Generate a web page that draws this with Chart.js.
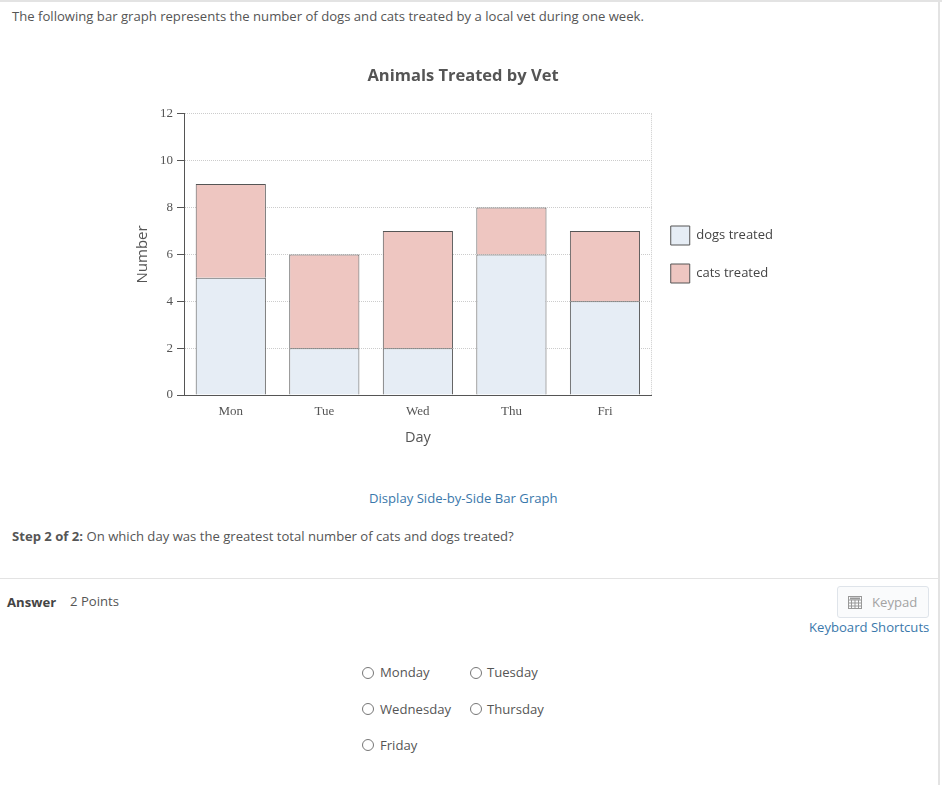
<!DOCTYPE html>
<html>
<head>
<meta charset="utf-8">
<title>Animals Treated by Vet</title>
<script src="https://cdn.jsdelivr.net/npm/chart.js@4"></script>
<style>
    html, body { margin: 0; padding: 0; background: #fff; }
    body { width: 942px; height: 785px; position: relative; overflow: hidden; font: 13.12px "Open Sans", sans-serif; color: #555; }
    .txt { position: absolute; white-space: nowrap; line-height: 18px; }
    .enlace { color: #3a78ab; }
    .linea { position: absolute; background: #e3e3e3; }
    .radio { position: absolute; width: 10px; height: 10px; border: 1px solid #777; border-radius: 50%; }
    #miGrafica { position: absolute; left: 120px; top: 62px; }
    #teclado { position: absolute; left: 837px; top: 586px; width: 90px; height: 30px; border: 1px solid #dfe4ea; border-radius: 3px; background: #fafbfc; }
</style>
</head>
<body>
<div class="linea" style="left:0;top:0;width:942px;height:2px"></div>
<div class="linea" style="left:938px;top:0;width:2px;height:785px"></div>
<div class="linea" style="left:0;top:578px;width:938px;height:1px"></div>

<div class="txt" style="left:12px;top:7px">The following bar graph represents the number of dogs and cats treated by a local vet during one week.</div>
<canvas id="miGrafica" width="686" height="385"></canvas>
<div class="txt enlace" style="left:369px;top:489px">Display Side-by-Side Bar Graph</div>
<div class="txt" style="left:12px;top:527px"><b>Step 2 of 2:</b> On which day was the greatest total number of cats and dogs treated?</div>

<div class="txt" style="left:7px;top:593px;color:#444"><b>Answer</b></div>
<div class="txt" style="left:70px;top:592px">2 Points</div>
<div id="teclado">
    <svg style="position:absolute;left:10px;top:9px" width="14" height="13" viewBox="0 0 14 13">
        <rect x="0.5" y="0.5" width="13" height="12" fill="none" stroke="#999"/>
        <path d="M0 4h14M0 7h14M0 10h14M3.5 4v9M7 4v9M10.5 4v9" stroke="#999" fill="none"/>
        <rect x="2" y="1.5" width="10" height="2" fill="#999"/>
    </svg>
    <div class="txt" style="left:34px;top:6px;color:#a3a3a3">Keypad</div>
</div>
<div class="txt enlace" style="left:809px;top:618px">Keyboard Shortcuts</div>

<div class="radio" style="left:362px;top:667px"></div><div class="txt" style="left:380px;top:663px">Monday</div>
<div class="radio" style="left:470px;top:667px"></div><div class="txt" style="left:487px;top:663px">Tuesday</div>
<div class="radio" style="left:362px;top:703px"></div><div class="txt" style="left:380px;top:700px">Wednesday</div>
<div class="radio" style="left:470px;top:703px"></div><div class="txt" style="left:487px;top:700px">Thursday</div>
<div class="radio" style="left:362px;top:739px"></div><div class="txt" style="left:380px;top:736px">Friday</div>

<script>
const dias = ['Mon', 'Tue', 'Wed', 'Thu', 'Fri'];
const perros = [5, 2, 2, 6, 4];
const gatos = [4, 4, 5, 2, 3];

const colorTexto = '#555';
const colorEje = '#555';
const fuenteSerif = { family: '"Liberation Serif", serif', size: 13 };

// Dotted line only on the right edge of the plot (that line has no tick of its own)
function colorRejillaX(ctx) {
    return ctx.tick ? 'rgba(0,0,0,0)' : '#ccc';
}

// The title is centred on the page column, not between the paddings
const moverTitulo = {
    id: 'moverTitulo',
    afterLayout(chart) {
        chart.titleBlock.left += 6.5;
        chart.titleBlock.right += 6.5;
    }
};

let ctx = document.getElementById('miGrafica').getContext('2d');
new Chart(ctx, {
    type: 'bar',
    plugins: [moverTitulo],
    data: {
        labels: dias,
        datasets: [
            { label: 'dogs treated', data: perros, backgroundColor: '#e6edf5', borderColor: '#555', borderWidth: 1 },
            { label: 'cats treated', data: gatos, backgroundColor: '#eec6c1', borderColor: '#555', borderWidth: 1 }
        ]
    },
    options: {
        responsive: false,
        animation: false,
        barPercentage: 0.75,
        categoryPercentage: 1,
        layout: { padding: { left: 10, right: 23, top: 0, bottom: 0 } },
        plugins: {
            title: {
                display: true,
                text: 'Animals Treated by Vet',
                color: colorTexto,
                font: { family: '"Open Sans"', size: 16.5, weight: 'bold' },
                padding: { top: 4, bottom: 28 }
            },
            legend: {
                position: 'right',
                labels: {
                    color: '#444',
                    font: { family: '"Open Sans"', size: 13 },
                    boxWidth: 19,
                    boxHeight: 19,
                    padding: 19
                }
            },
            tooltip: { enabled: false }
        },
        scales: {
            x: {
                stacked: true,
                ticks: { color: colorTexto, font: fuenteSerif, padding: 8 },
                grid: { color: colorRejillaX, tickColor: 'rgba(0,0,0,0)', tickLength: 1 },
                border: { color: colorEje, width: 1, dash: [1, 1] },
                title: {
                    display: true,
                    text: 'Day',
                    color: colorTexto,
                    font: { family: '"Open Sans"', size: 14.5 },
                    padding: { top: 2, bottom: 0 }
                }
            },
            y: {
                stacked: true,
                min: 0,
                max: 12,
                ticks: { stepSize: 2, color: colorTexto, font: fuenteSerif, padding: 4 },
                grid: { color: '#ccc', tickColor: colorEje, tickLength: 7, tickBorderDash: [] },
                border: { color: colorEje, width: 1, dash: [1, 1] },
                title: {
                    display: true,
                    text: 'Number',
                    color: colorTexto,
                    font: { family: '"Open Sans"', size: 15 },
                    padding: { top: 4, bottom: 4 }
                }
            }
        }
    }
});
</script>
</body>
</html>
